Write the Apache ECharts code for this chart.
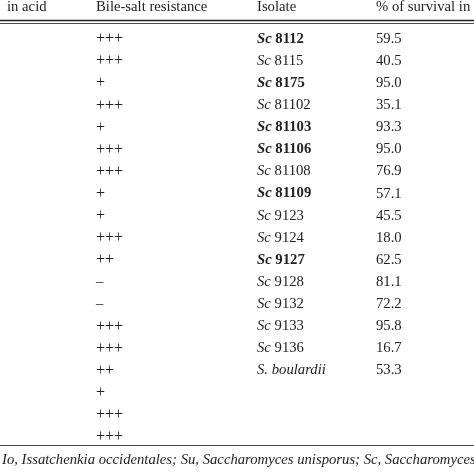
<!DOCTYPE html>
<html>
<head>
<meta charset="utf-8">
<script src="https://cdn.jsdelivr.net/npm/echarts@6/dist/echarts.min.js"></script>
<style>html,body{margin:0;background:#fff}#main{width:474px;height:474px}</style>
</head>
<body>
<div id="main"></div>
<script>
// table content
const headers = ["in acid", "Bile-salt resistance", "Isolate", "% of survival in"];
const bileSalt = ["+++", "+++", "+", "+++", "+", "+++", "+++", "+", "+", "+++", "++", "\u2013", "\u2013", "+++", "+++", "++", "+", "+++", "+++"];
const isolates = ["8112", "8115", "8175", "81102", "81103", "81106", "81108", "81109", "9123", "9124", "9127", "9128", "9132", "9133", "9136", "S. boulardii"];
const boldIsolates = ["8112", "8175", "81103", "81106", "81109", "9127"];
const survival = ["59.5", "40.5", "95.0", "35.1", "93.3", "95.0", "76.9", "57.1", "45.5", "18.0", "62.5", "81.1", "72.2", "95.8", "16.7", "53.3"];
const footnote = "Io, Issatchenkia occidentales; Su, Saccharomyces unisporus; Sc, Saccharomyces";

const colX = [7, 96, 257, 376];
const rowY0 = 39, rowH = 22.1;
const font = "Liberation Serif";
const fs = 14.7;

const rich = {
  i: { fontFamily: font, fontSize: fs, fontStyle: "italic", fill: "#222" },
  ib: { fontFamily: font, fontSize: fs, fontStyle: "italic", fontWeight: "bold", fill: "#222" },
  n: { fontFamily: font, fontSize: fs, fill: "#222" },
  b: { fontFamily: font, fontSize: fs, fontWeight: "bold", fill: "#222" },
};

const els = [];
const txt = (x, y, text, extra) => els.push({
  type: "text", x, y,
  style: Object.assign({ text, fontFamily: font, fontSize: fs, fill: "#222", textVerticalAlign: "middle" }, extra || {}),
});

headers.forEach((h, i) => txt(colX[i], 7, h));
els.push({ type: "line", shape: { x1: 0, y1: 20.5, x2: 474, y2: 20.5 }, style: { stroke: "#222", lineWidth: 1.5 } });
els.push({ type: "line", shape: { x1: 0, y1: 23.5, x2: 474, y2: 23.5 }, style: { stroke: "#222", lineWidth: 0.8 } });

bileSalt.forEach((s, i) => txt(colX[1], rowY0 + i * rowH, s, s.includes("+") ? { fontSize: 16 } : null));
isolates.forEach((s, i) => {
  const y = rowY0 + i * rowH;
  if (s.startsWith("S.")) {
    txt(colX[2], y, s, { fontStyle: "italic" });
  } else {
    const bold = boldIsolates.includes(s);
    txt(colX[2], y, bold ? "{ib|Sc} {b|" + s + "}" : "{i|Sc} {n|" + s + "}", { rich });
  }
});
survival.forEach((s, i) => txt(colX[3], rowY0 + i * rowH, s));

els.push({ type: "line", shape: { x1: 0, y1: 445.5, x2: 474, y2: 445.5 }, style: { stroke: "#222", lineWidth: 0.8 } });
txt(2, 460, footnote, { fontStyle: "italic" });

const myChart = echarts.init(document.getElementById("main"), null, { renderer: "canvas" });
myChart.setOption({ animation: false, graphic: { elements: els } });
</script>
</body>
</html>
